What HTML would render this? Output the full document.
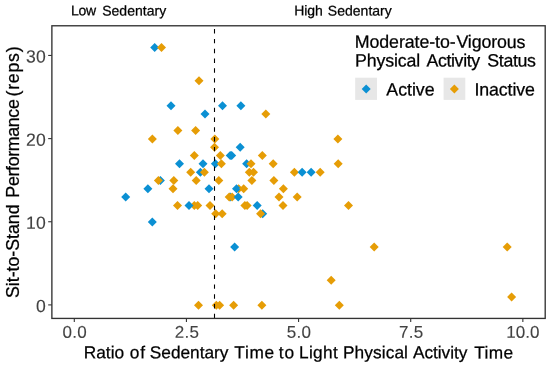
<!DOCTYPE html>
<html lang="en"><head><meta charset="utf-8"><title>Sit-to-Stand Performance vs Sedentary Ratio</title>
<style>html,body{margin:0;padding:0;background:#fff;overflow:hidden}body{width:550px;height:367px}</style></head>
<body>
<svg width="550" height="367" viewBox="0 0 550 367" style="display:block;font-family:'Liberation Sans',Arial,sans-serif">
<rect width="550" height="367" fill="#fff"/>
<g>
<path d="M154.70 42.94L159.20 47.44L154.70 51.94L150.20 47.44Z" fill="#0b90d3"/>
<path d="M161.50 42.94L166.00 47.44L161.50 51.94L157.00 47.44Z" fill="#e69d06"/>
<path d="M199.00 76.19L203.50 80.69L199.00 85.19L194.50 80.69Z" fill="#e69d06"/>
<path d="M171.00 101.14L175.50 105.64L171.00 110.14L166.50 105.64Z" fill="#0b90d3"/>
<path d="M222.50 101.14L227.00 105.64L222.50 110.14L218.00 105.64Z" fill="#0b90d3"/>
<path d="M240.90 101.14L245.40 105.64L240.90 110.14L236.40 105.64Z" fill="#0b90d3"/>
<path d="M205.00 109.46L209.50 113.96L205.00 118.46L200.50 113.96Z" fill="#0b90d3"/>
<path d="M265.80 109.46L270.30 113.96L265.80 118.46L261.30 113.96Z" fill="#e69d06"/>
<path d="M177.90 126.09L182.40 130.59L177.90 135.09L173.40 130.59Z" fill="#e69d06"/>
<path d="M195.60 126.09L200.10 130.59L195.60 135.09L191.10 130.59Z" fill="#e69d06"/>
<path d="M152.40 134.40L156.90 138.90L152.40 143.40L147.90 138.90Z" fill="#e69d06"/>
<path d="M214.80 134.40L219.30 138.90L214.80 143.40L210.30 138.90Z" fill="#e69d06"/>
<path d="M337.90 134.40L342.40 138.90L337.90 143.40L333.40 138.90Z" fill="#e69d06"/>
<path d="M214.50 142.72L219.00 147.22L214.50 151.72L210.00 147.22Z" fill="#e69d06"/>
<path d="M240.20 142.72L244.70 147.22L240.20 151.72L235.70 147.22Z" fill="#0b90d3"/>
<path d="M194.30 151.03L198.80 155.53L194.30 160.03L189.80 155.53Z" fill="#e69d06"/>
<path d="M220.30 151.03L224.80 155.53L220.30 160.03L215.80 155.53Z" fill="#e69d06"/>
<path d="M230.20 151.03L234.70 155.53L230.20 160.03L225.70 155.53Z" fill="#0b90d3"/>
<path d="M231.70 151.03L236.20 155.53L231.70 160.03L227.20 155.53Z" fill="#0b90d3"/>
<path d="M262.30 151.03L266.80 155.53L262.30 160.03L257.80 155.53Z" fill="#e69d06"/>
<path d="M179.50 159.34L184.00 163.84L179.50 168.34L175.00 163.84Z" fill="#0b90d3"/>
<path d="M203.00 159.34L207.50 163.84L203.00 168.34L198.50 163.84Z" fill="#0b90d3"/>
<path d="M215.40 159.34L219.90 163.84L215.40 168.34L210.90 163.84Z" fill="#0b90d3"/>
<path d="M221.40 159.34L225.90 163.84L221.40 168.34L216.90 163.84Z" fill="#e69d06"/>
<path d="M246.60 159.34L251.10 163.84L246.60 168.34L242.10 163.84Z" fill="#0b90d3"/>
<path d="M251.00 159.34L255.50 163.84L251.00 168.34L246.50 163.84Z" fill="#e69d06"/>
<path d="M273.20 159.34L277.70 163.84L273.20 168.34L268.70 163.84Z" fill="#e69d06"/>
<path d="M338.20 159.34L342.70 163.84L338.20 168.34L333.70 163.84Z" fill="#e69d06"/>
<path d="M190.70 167.66L195.20 172.16L190.70 176.66L186.20 172.16Z" fill="#e69d06"/>
<path d="M200.40 167.66L204.90 172.16L200.40 176.66L195.90 172.16Z" fill="#0b90d3"/>
<path d="M204.40 167.66L208.90 172.16L204.40 176.66L199.90 172.16Z" fill="#e69d06"/>
<path d="M249.30 167.66L253.80 172.16L249.30 176.66L244.80 172.16Z" fill="#e69d06"/>
<path d="M253.50 167.66L258.00 172.16L253.50 176.66L249.00 172.16Z" fill="#e69d06"/>
<path d="M294.40 167.66L298.90 172.16L294.40 176.66L289.90 172.16Z" fill="#e69d06"/>
<path d="M302.10 167.66L306.60 172.16L302.10 176.66L297.60 172.16Z" fill="#0b90d3"/>
<path d="M311.10 167.66L315.60 172.16L311.10 176.66L306.60 172.16Z" fill="#0b90d3"/>
<path d="M320.20 167.66L324.70 172.16L320.20 176.66L315.70 172.16Z" fill="#e69d06"/>
<path d="M160.40 175.97L164.90 180.47L160.40 184.97L155.90 180.47Z" fill="#0b90d3"/>
<path d="M158.35 175.97L162.85 180.47L158.35 184.97L153.85 180.47Z" fill="#e69d06"/>
<path d="M173.80 175.97L178.30 180.47L173.80 184.97L169.30 180.47Z" fill="#e69d06"/>
<path d="M196.20 175.97L200.70 180.47L196.20 184.97L191.70 180.47Z" fill="#e69d06"/>
<path d="M218.80 175.97L223.30 180.47L218.80 184.97L214.30 180.47Z" fill="#e69d06"/>
<path d="M251.90 175.97L256.40 180.47L251.90 184.97L247.40 180.47Z" fill="#e69d06"/>
<path d="M273.90 175.97L278.40 180.47L273.90 184.97L269.40 180.47Z" fill="#e69d06"/>
<path d="M147.90 184.29L152.40 188.79L147.90 193.29L143.40 188.79Z" fill="#0b90d3"/>
<path d="M173.00 184.29L177.50 188.79L173.00 193.29L168.50 188.79Z" fill="#e69d06"/>
<path d="M209.00 184.29L213.50 188.79L209.00 193.29L204.50 188.79Z" fill="#0b90d3"/>
<path d="M238.60 184.29L243.10 188.79L238.60 193.29L234.10 188.79Z" fill="#e69d06"/>
<path d="M236.50 184.29L241.00 188.79L236.50 193.29L232.00 188.79Z" fill="#0b90d3"/>
<path d="M243.70 184.29L248.20 188.79L243.70 193.29L239.20 188.79Z" fill="#e69d06"/>
<path d="M283.40 184.29L287.90 188.79L283.40 193.29L278.90 188.79Z" fill="#e69d06"/>
<path d="M125.70 192.60L130.20 197.10L125.70 201.60L121.20 197.10Z" fill="#0b90d3"/>
<path d="M230.20 192.60L234.70 197.10L230.20 201.60L225.70 197.10Z" fill="#0b90d3"/>
<path d="M229.20 192.60L233.70 197.10L229.20 201.60L224.70 197.10Z" fill="#e69d06"/>
<path d="M232.10 192.60L236.60 197.10L232.10 201.60L227.60 197.10Z" fill="#e69d06"/>
<path d="M238.20 192.60L242.70 197.10L238.20 201.60L233.70 197.10Z" fill="#0b90d3"/>
<path d="M279.00 192.60L283.50 197.10L279.00 201.60L274.50 197.10Z" fill="#e69d06"/>
<path d="M297.20 192.60L301.70 197.10L297.20 201.60L292.70 197.10Z" fill="#e69d06"/>
<path d="M177.50 200.92L182.00 205.42L177.50 209.92L173.00 205.42Z" fill="#e69d06"/>
<path d="M194.30 200.92L198.80 205.42L194.30 209.92L189.80 205.42Z" fill="#e69d06"/>
<path d="M197.70 200.92L202.20 205.42L197.70 209.92L193.20 205.42Z" fill="#e69d06"/>
<path d="M189.00 200.92L193.50 205.42L189.00 209.92L184.50 205.42Z" fill="#0b90d3"/>
<path d="M210.00 200.92L214.50 205.42L210.00 209.92L205.50 205.42Z" fill="#e69d06"/>
<path d="M244.90 200.92L249.40 205.42L244.90 209.92L240.40 205.42Z" fill="#e69d06"/>
<path d="M247.10 200.92L251.60 205.42L247.10 209.92L242.60 205.42Z" fill="#e69d06"/>
<path d="M257.20 200.92L261.70 205.42L257.20 209.92L252.70 205.42Z" fill="#0b90d3"/>
<path d="M283.00 200.92L287.50 205.42L283.00 209.92L278.50 205.42Z" fill="#e69d06"/>
<path d="M348.50 200.92L353.00 205.42L348.50 209.92L344.00 205.42Z" fill="#e69d06"/>
<path d="M215.70 209.24L220.20 213.74L215.70 218.24L211.20 213.74Z" fill="#e69d06"/>
<path d="M222.20 209.24L226.70 213.74L222.20 218.24L217.70 213.74Z" fill="#e69d06"/>
<path d="M262.70 209.24L267.20 213.74L262.70 218.24L258.20 213.74Z" fill="#0b90d3"/>
<path d="M260.55 209.24L265.05 213.74L260.55 218.24L256.05 213.74Z" fill="#e69d06"/>
<path d="M152.30 217.55L156.80 222.05L152.30 226.55L147.80 222.05Z" fill="#0b90d3"/>
<path d="M234.60 242.50L239.10 247.00L234.60 251.50L230.10 247.00Z" fill="#0b90d3"/>
<path d="M374.20 242.50L378.70 247.00L374.20 251.50L369.70 247.00Z" fill="#e69d06"/>
<path d="M507.20 242.50L511.70 247.00L507.20 251.50L502.70 247.00Z" fill="#e69d06"/>
<path d="M331.20 275.75L335.70 280.25L331.20 284.75L326.70 280.25Z" fill="#e69d06"/>
<path d="M511.60 292.38L516.10 296.88L511.60 301.38L507.10 296.88Z" fill="#e69d06"/>
<path d="M198.50 300.70L203.00 305.20L198.50 309.70L194.00 305.20Z" fill="#e69d06"/>
<path d="M216.30 300.70L220.80 305.20L216.30 309.70L211.80 305.20Z" fill="#e69d06"/>
<path d="M219.60 300.70L224.10 305.20L219.60 309.70L215.10 305.20Z" fill="#e69d06"/>
<path d="M233.60 300.70L238.10 305.20L233.60 309.70L229.10 305.20Z" fill="#e69d06"/>
<path d="M261.90 300.70L266.40 305.20L261.90 309.70L257.40 305.20Z" fill="#e69d06"/>
<path d="M339.30 300.70L343.80 305.20L339.30 309.70L334.80 305.20Z" fill="#e69d06"/>
</g>
<line x1="214.5" y1="318.3" x2="214.5" y2="26" stroke="#000" stroke-width="1.08" stroke-dasharray="4.45 5.37"/>
<rect x="51.88" y="25.78" width="493.32000000000005" height="292.64" fill="none" stroke="#333" stroke-width="1.35"/>
<line x1="48.18" x2="51.88" y1="304.90" y2="304.90" stroke="#333" stroke-width="1.1"/>
<text transform="rotate(0.03 46 311.90)" x="46.2" y="312.00" font-size="17.6" letter-spacing="0.3" fill="#424242" stroke="#424242" stroke-width="0.12" text-anchor="end">0</text>
<line x1="48.18" x2="51.88" y1="221.75" y2="221.75" stroke="#333" stroke-width="1.1"/>
<text transform="rotate(0.03 46 228.75)" x="46.2" y="228.85" font-size="17.6" letter-spacing="0.3" fill="#424242" stroke="#424242" stroke-width="0.12" text-anchor="end">10</text>
<line x1="48.18" x2="51.88" y1="138.60" y2="138.60" stroke="#333" stroke-width="1.1"/>
<text transform="rotate(0.03 46 145.60)" x="46.2" y="145.70" font-size="17.6" letter-spacing="0.3" fill="#424242" stroke="#424242" stroke-width="0.12" text-anchor="end">20</text>
<line x1="48.18" x2="51.88" y1="55.45" y2="55.45" stroke="#333" stroke-width="1.1"/>
<text transform="rotate(0.03 46 62.45)" x="46.2" y="62.55" font-size="17.6" letter-spacing="0.3" fill="#424242" stroke="#424242" stroke-width="0.12" text-anchor="end">30</text>
<line y1="318.42" y2="321.92" x1="74.30" x2="74.30" stroke="#333" stroke-width="1.1"/>
<text transform="rotate(0.03 74.3 337.7)" x="74.80" y="337.7" font-size="17.0" letter-spacing="0.3" fill="#424242" stroke="#424242" stroke-width="0.12" text-anchor="middle">0.0</text>
<line y1="318.42" y2="321.92" x1="186.44" x2="186.44" stroke="#333" stroke-width="1.1"/>
<text transform="rotate(0.03 186.4 337.7)" x="186.94" y="337.7" font-size="17.0" letter-spacing="0.3" fill="#424242" stroke="#424242" stroke-width="0.12" text-anchor="middle">2.5</text>
<line y1="318.42" y2="321.92" x1="298.57" x2="298.57" stroke="#333" stroke-width="1.1"/>
<text transform="rotate(0.03 298.6 337.7)" x="299.07" y="337.7" font-size="17.0" letter-spacing="0.3" fill="#424242" stroke="#424242" stroke-width="0.12" text-anchor="middle">5.0</text>
<line y1="318.42" y2="321.92" x1="410.71" x2="410.71" stroke="#333" stroke-width="1.1"/>
<text transform="rotate(0.03 410.7 337.7)" x="411.21" y="337.7" font-size="17.0" letter-spacing="0.3" fill="#424242" stroke="#424242" stroke-width="0.12" text-anchor="middle">7.5</text>
<line y1="318.42" y2="321.92" x1="522.85" x2="522.85" stroke="#333" stroke-width="1.1"/>
<text transform="rotate(0.03 522.8 337.7)" x="522.85" y="337.7" font-size="17.0" letter-spacing="0.05" fill="#424242" stroke="#424242" stroke-width="0.12" text-anchor="middle">10.0</text>
<text transform="rotate(0.03 298 358.3)" y="358.3" font-size="17.3" fill="#000" stroke="#000" stroke-width="0.25"><tspan x="83.65" textLength="40.55" lengthAdjust="spacing">Ratio</tspan> <tspan x="129.76" textLength="15.28" lengthAdjust="spacing">of</tspan> <tspan x="149.86" textLength="78.54" lengthAdjust="spacing">Sedentary</tspan> <tspan x="234.33" textLength="39.72" lengthAdjust="spacing">Time</tspan> <tspan x="278.7" textLength="15.5" lengthAdjust="spacing">to</tspan> <tspan x="298.95" textLength="38.89" lengthAdjust="spacing">Light</tspan> <tspan x="342.9" textLength="65.04" lengthAdjust="spacing">Physical</tspan> <tspan x="413.0" textLength="54.4" lengthAdjust="spacing">Activity</tspan> <tspan x="474.23" textLength="38.87" lengthAdjust="spacing">Time</tspan></text>
<text transform="translate(18.9 296.6) rotate(-90)" font-size="17.8" fill="#000" stroke="#000" stroke-width="0.25"><tspan x="-1.46" textLength="93.66" lengthAdjust="spacing">Sit-to-Stand</tspan> <tspan x="98.96" textLength="98.46" lengthAdjust="spacing">Performance</tspan> <tspan x="200.17" textLength="50.01" lengthAdjust="spacing">(reps)</tspan></text>
<text transform="rotate(0.03 120 15.4)" y="15.4" font-size="14.0" fill="#000" stroke="#000" stroke-width="0.25"><tspan x="71.01" textLength="25.22" lengthAdjust="spacing">Low</tspan> <tspan x="102.16" textLength="64.04" lengthAdjust="spacing">Sedentary</tspan></text>
<text transform="rotate(0.03 340 15.4)" y="15.4" font-size="14.0" fill="#000" stroke="#000" stroke-width="0.25"><tspan x="294.21" textLength="28.53" lengthAdjust="spacing">High</tspan> <tspan x="327.86" textLength="63.94" lengthAdjust="spacing">Sedentary</tspan></text>
<text transform="rotate(0.03 440 47.85)" y="47.85" font-size="17.8" fill="#000" stroke="#000" stroke-width="0.25"><tspan x="354.71" textLength="100.98" lengthAdjust="spacing">Moderate-to-</tspan><tspan x="456.4" textLength="68.96" lengthAdjust="spacing">Vigorous</tspan></text>
<text transform="rotate(0.03 440 66.45)" y="66.45" font-size="17.8" fill="#000" stroke="#000" stroke-width="0.25"><tspan x="355.06" textLength="65.21" lengthAdjust="spacing">Physical</tspan> <tspan x="426.4" textLength="53.8" lengthAdjust="spacing">Activity</tspan> <tspan x="487.34" textLength="48.61" lengthAdjust="spacing">Status</tspan></text>
<text transform="rotate(0.03 440 95.5)" y="95.5" font-size="17.8" fill="#000" stroke="#000" stroke-width="0.25"><tspan x="386.3" textLength="48.32" lengthAdjust="spacing">Active</tspan></text>
<text transform="rotate(0.03 440 95.5)" y="95.5" font-size="17.8" fill="#000" stroke="#000" stroke-width="0.25"><tspan x="474.41" textLength="60.51" lengthAdjust="spacing">Inactive</tspan></text>
<rect x="355.2" y="77.7" width="21.8" height="22.2" fill="#e7e7e7"/>
<rect x="443.6" y="77.7" width="21.7" height="22.2" fill="#e7e7e7"/>
<path d="M366.20 84.50L370.70 89.00L366.20 93.50L361.70 89.00Z" fill="#0b90d3"/>
<path d="M454.40 84.50L458.90 89.00L454.40 93.50L449.90 89.00Z" fill="#e69d06"/>
</svg>
</body></html>
